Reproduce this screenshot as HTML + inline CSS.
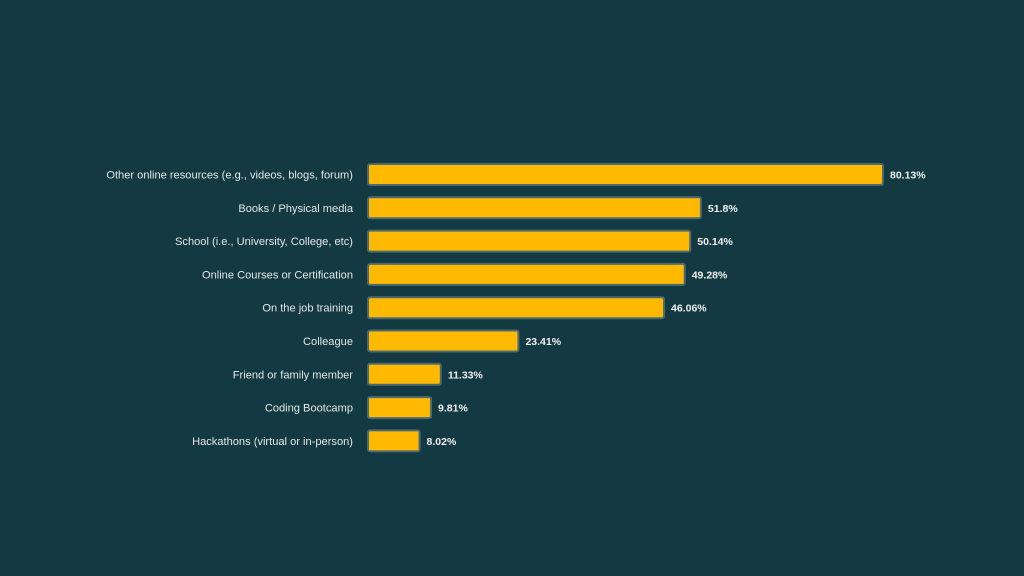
<!DOCTYPE html>
<html><head><meta charset="utf-8"><style>
html,body{margin:0;padding:0;background:#133a43;}
svg{display:block;font-family:"Liberation Sans",sans-serif;}
</style></head><body>
<svg id="chart" width="1024" height="576" viewBox="0 0 1024 576">
<rect x="0" y="0" width="1024" height="576" fill="#133a43"/>
<g id="bars"></g>
</svg>
<script>
const categories = ["Other online resources (e.g., videos, blogs, forum)","Books / Physical media","School (i.e., University, College, etc)","Online Courses or Certification","On the job training","Colleague","Friend or family member","Coding Bootcamp","Hackathons (virtual or in-person)"];
const values = [80.13,51.8,50.14,49.28,46.06,23.41,11.33,9.81,8.02];
const valueLabels = ["80.13%","51.8%","50.14%","49.28%","46.06%","23.41%","11.33%","9.81%","8.02%"];
const x0 = 368, pxPer = (883-368)/80.13;
const xScale = v => x0 + v*pxPer;
const yTop = 164, step = 33.3, barH = 21;
const yScale = i => yTop + i*step;
const ns = "http://www.w3.org/2000/svg";
const g = document.getElementById('bars');
categories.forEach((c,i)=>{
  const y = yScale(i);
  const r = document.createElementNS(ns,'rect');
  
  
  r.setAttribute('x', x0); r.setAttribute('y', y);
  r.setAttribute('width', xScale(values[i]) - x0); r.setAttribute('height', barH);
  r.setAttribute('rx', 2);
  r.setAttribute('fill', '#ffba00'); r.setAttribute('stroke', '#4d6a70'); r.setAttribute('stroke-width', 2);
  g.appendChild(r);
  const t = document.createElementNS(ns,'text');
  
  
  t.setAttribute('x', 353); t.setAttribute('y', y + barH/2 + 4);
  t.setAttribute('text-anchor', 'end'); t.setAttribute('font-size', '11.1');
  t.setAttribute('fill', '#e3e6e6');
  t.textContent = c;
  g.appendChild(t);
  const v = document.createElementNS(ns,'text');
  
  
  v.setAttribute('x', xScale(values[i]) + 7); v.setAttribute('y', y + barH/2 + 4);
  v.setAttribute('font-size', '10.5'); v.setAttribute('font-weight', 'bold');
  v.setAttribute('fill', '#f0f0f0');
  v.textContent = valueLabels[i];
  g.appendChild(v);
});
</script>
</body></html>
